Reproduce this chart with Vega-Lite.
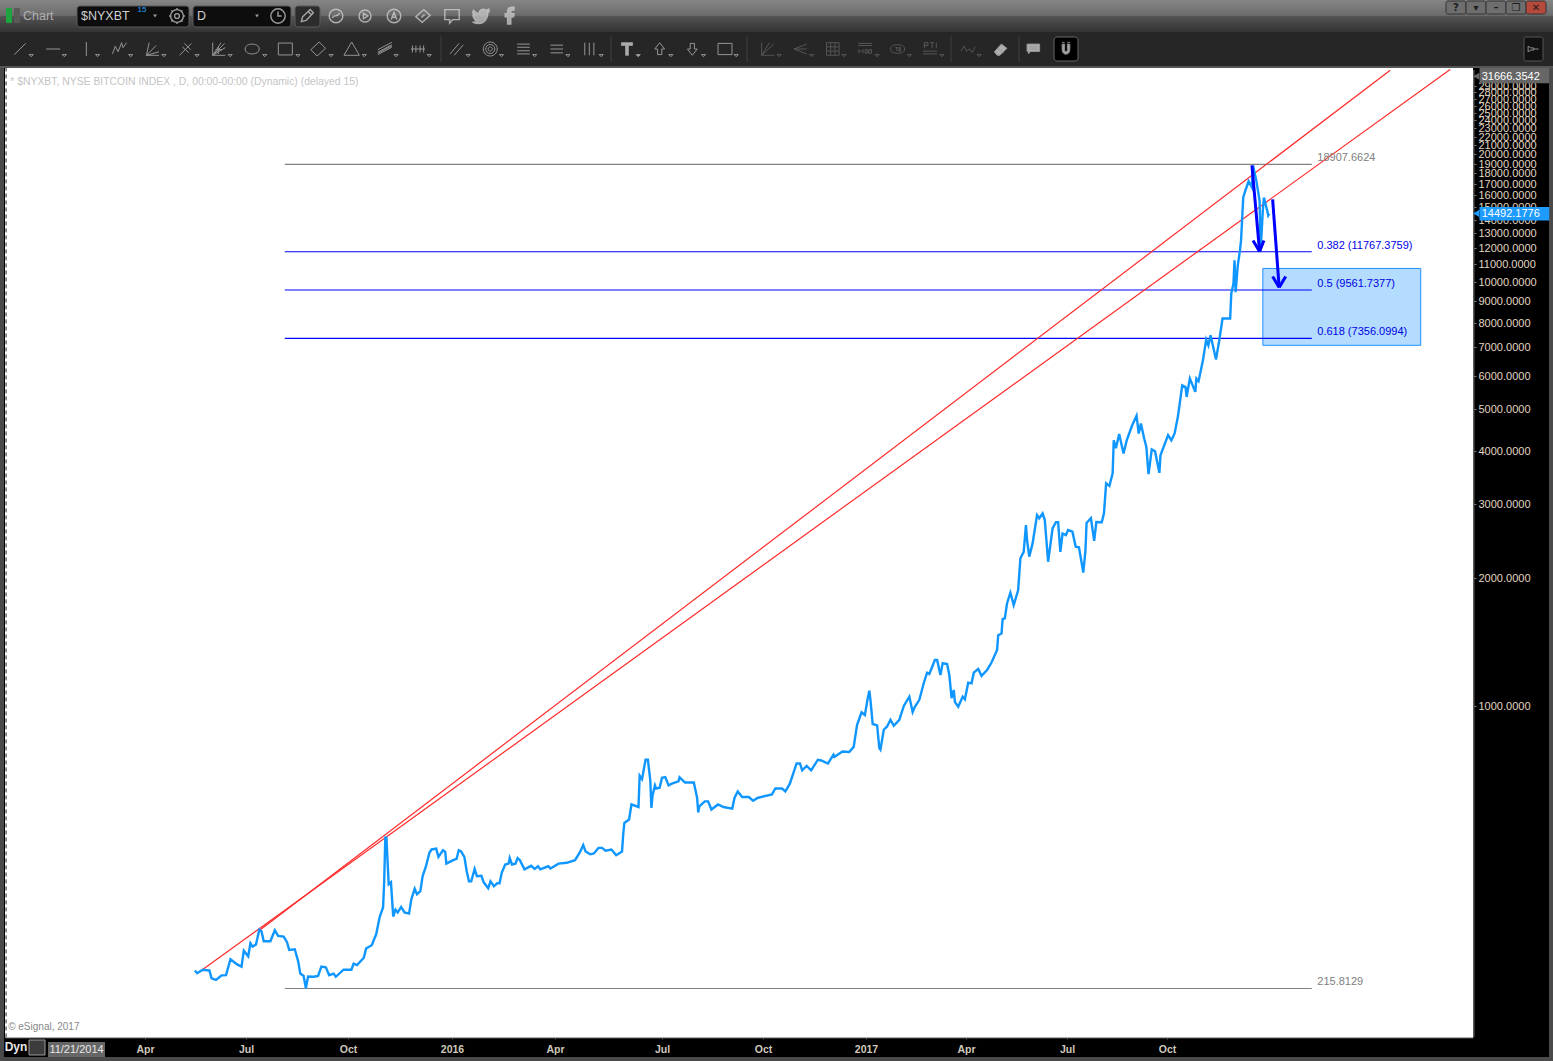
{
"$schema":"https://vega.github.io/schema/vega-lite/v6.json",
"description":"NYSE Bitcoin Index daily chart with Fibonacci retracement levels",
"width":1553,"height":1061,"autosize":{"type":"none"},"padding":0,"background":"#000000",
"config":{"view":{"fill":"#000000","stroke":"#4a4a4a","strokeWidth":8},"font":"Liberation Sans"},
"resolve":{"scale":{"x":"independent","y":"independent","shape":"independent"}},
"layer":[
{"data":{"values":[{"row":"frame"}]},"mark":{"type":"rect","color":"#555555"},"encoding":{"y":{"field":"row","type":"nominal","axis":null,"scale":{"range":[0,68]}}}},
{"data":{"values":[{"row":"title"}]},"mark":{"type":"rect","color":{"gradient":"linear","x1":0,"y1":0,"x2":0,"y2":1,"stops":[{"offset":0,"color":"#858585"},{"offset":0.48,"color":"#6c6c6c"},{"offset":0.52,"color":"#525252"},{"offset":1,"color":"#343434"}]}},"encoding":{"y":{"field":"row","type":"nominal","axis":null,"scale":{"range":[0,32]}}}},
{"data":{"values":[{"row":"tools"}]},"mark":{"type":"rect","color":"#262626"},"encoding":{"y":{"field":"row","type":"nominal","axis":null,"scale":{"range":[32,66]}}}},
{
"data":{"values":[{"box":"symbol"}]},
"encoding":{"y":{"datum":"t","type":"nominal","axis":null,"scale":{"domain":["t"],"range":[6,27]}}},
"resolve":{"scale":{"x":"independent"}},
"layer":[
{"mark":{"type":"rect","color":"#0d0d0d","stroke":"#5a5a5a","cornerRadius":3},"encoding":{"x":{"field":"box","type":"nominal","axis":null,"scale":{"range":[77,189]}}}},
{"data":{"values":[{"box":"interval"}]},"mark":{"type":"rect","color":"#0d0d0d","stroke":"#5a5a5a","cornerRadius":3},"encoding":{"x":{"field":"box","type":"nominal","axis":null,"scale":{"range":[193,291]}}}},
{"data":{"values":[{"box":"draw"}]},"mark":{"type":"rect","color":"#2c2c2c","stroke":"#5a5a5a","cornerRadius":3},"encoding":{"x":{"field":"box","type":"nominal","axis":null,"scale":{"range":[295,320]}}}}
]
},
{
"data":{"values":[{"led":"on"},{"led":"off"}]},
"mark":{"type":"rect","cornerRadius":1},
"encoding":{
"x":{"field":"led","type":"nominal","sort":null,"axis":null,"scale":{"range":[6,20],"paddingInner":0.25,"paddingOuter":0}},
"y":{"datum":"t","type":"nominal","axis":null,"scale":{"domain":["t"],"range":[8,23]}},
"color":{"condition":{"test":"datum.led=='on'","value":"#1fa53f"},"value":"#5a5a5a"}
}
},
{
"data":{"values":[{"txt":"Chart"},{"txt":"$NYXBT"},{"txt":"D"}]},
"mark":{"type":"text","align":"left","fontSize":12.5},
"encoding":{
"x":{"field":"txt","type":"nominal","axis":null,"scale":{"type":"point","padding":0,"domain":["Chart","$NYXBT","_","D"],"range":[23,197]}},
"y":{"datum":"t","type":"nominal","axis":null,"scale":{"domain":["t"],"range":[2,30]}},
"text":{"field":"txt"},
"color":{"condition":{"test":"datum.txt=='Chart'","value":"#b0b0b0"},"value":"#d0d0d0"}
}
},
{
"data":{"values":[{"txt":"15"}]},
"mark":{"type":"text","fontSize":8,"color":"#19a7ff"},
"encoding":{
"x":{"field":"txt","type":"nominal","axis":null,"scale":{"type":"point","padding":0,"range":[135,149]}},
"y":{"datum":"t","type":"nominal","axis":null,"scale":{"domain":["t"],"range":[2,18]}},
"text":{"field":"txt"}
}
},
{
"data":{"values":[{"menu":"symbol"},{"menu":"interval"}]},
"mark":{"type":"point","shape":"triangle-down","filled":true,"size":14,"color":"#dddddd"},
"encoding":{
"x":{"field":"menu","type":"nominal","sort":null,"axis":null,"scale":{"type":"point","padding":0,"range":[155,257]}},
"y":{"datum":"t","type":"nominal","axis":null,"scale":{"domain":["t"],"range":[2,30]}}
}
},
{
"encoding":{
"y":{"datum":"t","type":"nominal","axis":null,"scale":{"domain":["t"],"range":[2,30]}},
"shape":{"field":"tool","type":"nominal","legend":null,"scale":{
"domain":["gear","clock","pencil","compass","play","auto","link","chat","twitter","facebook"],
"range":[
"M.8 0A.8 .8 0 1 1 -.8 0A.8 .8 0 1 1 .8 0M.3 0A.3 .3 0 1 1 -.3 0A.3 .3 0 1 1 .3 0M0 -1V-.8M0 1V.8M-1 0H-.8M1 0H.8M-.7 -.7L-.55 -.55M.7 .7L.55 .55M-.7 .7L-.55 .55M.7 -.7L.55 -.55",
"M.9 0A.9 .9 0 1 1 -.9 0A.9 .9 0 1 1 .9 0M0 -.55V0H.45",
"M-.7 .7L-.55 .1L.4 -.8L.8 -.4L-.1 .55ZM.15 -.55L.55 -.15",
"M.85 0A.85 .85 0 1 1 -.85 0A.85 .85 0 1 1 .85 0M-.45 .25C-.25 -.35 0 .35 .45 -.35",
"M.75 0A.75 .75 0 1 1 -.75 0A.75 .75 0 1 1 .75 0M-.2 -.35L.35 0L-.2 .35Z",
"M.85 0A.85 .85 0 1 1 -.85 0A.85 .85 0 1 1 .85 0M-.35 .45L0 -.45L.35 .45M-.2 .15H.2",
"M-.9 .1L.1 -.8L.9 -.1L-.1 .8ZM-.2 .2L.2 -.2",
"M-.9 -.8H.9V.45H.1L-.3 .9V.45H-.9Z",
"M1 -.6C.9 -.55 .8 -.5 .7 -.5C.8 -.6 .9 -.7 .95 -.85C.85 -.8 .75 -.75 .6 -.7C.5 -.8 .4 -.85 .25 -.85C-.05 -.85 -.25 -.6 -.2 -.3C-.5 -.3 -.75 -.45 -.95 -.7C-1.05 -.5 -1 -.2 -.8 -.05C-.9 -.05 -.95 -.1 -1 -.1C-1 .1 -.85 .3 -.65 .35C-.75 .35 -.8 .35 -.85 .35C-.8 .5 -.65 .6 -.45 .6C-.6 .75 -.85 .8 -1.05 .75C-.85 .9 -.6 .95 -.35 .95C.45 .95 .85 .3 .85 -.35C.9 -.4 .95 -.5 1 -.6Z",
"M.1 1V.1H.45L.5 -.3H.1V-.55C.1 -.7 .2 -.75 .3 -.75H.5V-1.1H.2C-.2 -1.1 -.3 -.8 -.3 -.55V-.3H-.6V.1H-.3V1Z"
]}},
"stroke":{"value":"#dcdcdc"},
"fill":{"condition":{"test":"datum.tool=='twitter'||datum.tool=='facebook'","value":"#cfcfcf"},"value":"transparent"}
},
"resolve":{"scale":{"x":"independent"}},
"layer":[
{"data":{"values":[{"tool":"gear"}]},"mark":{"type":"point","size":256,"strokeWidth":1.4},"encoding":{"x":{"field":"tool","type":"nominal","axis":null,"scale":{"type":"point","padding":0,"range":[165,189]}}}},
{"data":{"values":[{"tool":"clock"},{"tool":"pencil"},{"tool":"compass"},{"tool":"play"},{"tool":"auto"},{"tool":"link"},{"tool":"chat"},{"tool":"twitter"},{"tool":"facebook"}]},"mark":{"type":"point","size":256,"strokeWidth":1.4},"encoding":{"x":{"field":"tool","type":"nominal","sort":null,"axis":null,"scale":{"type":"point","padding":0,"range":[278,510]}}}}
]
},
{
"encoding":{"y":{"datum":"t","type":"nominal","axis":null,"scale":{"domain":["t"],"range":[1,14]}}},
"resolve":{"scale":{"x":"independent"}},
"layer":[
{"data":{"values":[{"btn":"?"},{"btn":"▾"},{"btn":"–"},{"btn":"❐"},{"btn":"✕"}]},"mark":{"type":"rect","stroke":"#333333","cornerRadius":2},"encoding":{
"x":{"field":"btn","type":"nominal","sort":null,"axis":null,"scale":{"range":[1446,1546]}},
"color":{"condition":{"test":"datum.btn=='✕'","value":"#b5493c"},"value":"#6e6e6e"}}},
{"data":{"values":[{"btn":"?"},{"btn":"▾"},{"btn":"–"},{"btn":"❐"},{"btn":"✕"}]},"mark":{"type":"text","font":"DejaVu Sans","fontSize":10,"fontWeight":"bold","color":"#1c1c1c"},"encoding":{
"x":{"field":"btn","type":"nominal","sort":null,"axis":null,"scale":{"type":"point","padding":0,"range":[1456,1536]}},
"text":{"field":"btn"}}}
]
},
{
"encoding":{"y":{"datum":"t","type":"nominal","axis":null,"scale":{"domain":["t"],"range":[37,61]}}},
"resolve":{"scale":{"x":"independent"}},
"layer":[
{"data":{"values":[{"box":"magnet"}]},"mark":{"type":"rect","color":"#000000","stroke":"#666666","cornerRadius":3},"encoding":{"x":{"field":"box","type":"nominal","axis":null,"scale":{"range":[1054,1078]}}}},
{"data":{"values":[{"box":"pin"}]},"mark":{"type":"rect","color":"#111111","stroke":"#555555","cornerRadius":2},"encoding":{"x":{"field":"box","type":"nominal","axis":null,"scale":{"range":[1524,1543]}}}}
]
},
{
"encoding":{
"y":{"datum":"t","type":"nominal","axis":null,"scale":{"domain":["t"],"range":[34,64]}},
"shape":{"field":"tool","type":"nominal","legend":null,"scale":{
"domain":["line","hline","vline","zigzag","fan","pitchfork","gann","ellipse","rectangle","rhombus","triangle","channel","cycles","parallel","circles","fibh","fibg","fibv","text","up","down","shade","axes","arrows","grid","mob","td","pti","wave","eraser","note","magnet","pin"],
"range":[
"M-.8 .8L.8 -.8M1.3 .8H1.9L1.6 1.1Z",
"M-1 0H1M1.3 .8H1.9L1.6 1.1Z",
"M0 -1V1M1.3 .8H1.9L1.6 1.1Z",
"M-1 .7L-.6 -.4L-.2 .4L.3 -.9L.5 -.2L1 -.9M1.3 .8H1.9L1.6 1.1Z",
"M-.9 .9L-.5 -.9M-.9 .9L.5 -.5M-.9 .9L.9 .4M-.9 .9H.9M1.3 .8H1.9L1.6 1.1Z",
"M-.9 .9L.8 -.8M-.5 -.3L.4 .5M-.2 -.8L.7 .1M1.3 .8H1.9L1.6 1.1Z",
"M-.9 -.9V.9H.9M-.9 .9L.8 -.8M-.9 .9L.3 -.9M-.9 .9L.9 -.2M-.5 .1H.4M-.1 -.3V.7M1.3 .8H1.9L1.6 1.1Z",
"M1 0C1 .5 .5 .7 0 .7C-.5 .7 -1 .5 -1 0C-1 -.5 -.5 -.7 0 -.7C.5 -.7 1 -.5 1 0ZM1.5 .8H2.1L1.8 1.1Z",
"M-1 -.85H1V.85H-1ZM1.5 .8H2.1L1.8 1.1Z",
"M-1.1 .1L.1 -1L1 -.1L-.2 1ZM1.5 .8H2.1L1.8 1.1Z",
"M-1.1 .9L0 -1L1.1 .9ZM1.5 .8H2.1L1.8 1.1Z",
"M-1 .45L1 -.6M-1 .8L1 -.25M-1 .1L1 -.95M-1 .6L1 -.45M1.3 .8H1.9L1.6 1.1Z",
"M-1 0H1M-.8 -.5V.5M-.3 -.5V.5M.3 -.5V.5M.8 -.5V.5M1.3 .8H1.9L1.6 1.1Z",
"M-1 .7L.3 -.8M-.4 .9L.9 -.6M1.3 .8H1.9L1.6 1.1Z",
"M1 0A1 1 0 1 1 -1 0A1 1 0 1 1 1 0M.65 0A.65 .65 0 1 1 -.65 0A.65 .65 0 1 1 .65 0M.3 0A.3 .3 0 1 1 -.3 0A.3 .3 0 1 1 .3 0M1.3 .8H1.9L1.6 1.1Z",
"M-.9 -.7H.9M-.9 -.25H.9M-.9 .25H.9M-.9 .7H.9M1.3 .8H1.9L1.6 1.1Z",
"M-.9 -.55H.9M-.9 0H.9M-.9 .55H.9M1.3 .8H1.9L1.6 1.1Z",
"M-.75 -.9V.9M-.1 -.9V.9M.55 -.9V.9M1.3 .8H1.9L1.6 1.1Z",
"M-.8 -.9H.8V-.5H.2V.9H-.2V-.5H-.8ZM1.3 .8H1.9L1.6 1.1Z",
"M0 -.9L.7 0H.3V.8H-.3V0H-.7ZM1.3 .8H1.9L1.6 1.1Z",
"M0 .9L.7 0H.3V-.8H-.3V0H-.7ZM1.3 .8H1.9L1.6 1.1Z",
"M-1 -.8H1V.8H-1ZM1.3 .8H1.9L1.6 1.1Z",
"M-.9 -.9V.9H.9M-.9 .9L.8 -.7M-.9 .9L.2 -.9M1.3 .8H1.9L1.6 1.1Z",
"M.9 -.7L-.9 0L.9 .7M-.9 0H.9M1.3 .8H1.9L1.6 1.1Z",
"M-.9 -.9H.9V.9H-.9ZM-.9 -.3H.9M-.9 .3H.9M-.3 -.9V.9M.3 -.9V.9M1.3 .8H1.9L1.6 1.1Z",
"M-1 -.8H1M-1 -.5H1M-.9 .6V.1L-.6 .4L-.3 .1V.6M0 .1H.3V.6H0ZM.5 .1V.6H.9V.1ZM1.4 .8H2L1.7 1.1Z",
"M1 0C1 .5 .5 .6 0 .6C-.5 .6 -1 .5 -1 0C-1 -.5 -.5 -.6 0 -.6C.5 -.6 1 -.5 1 0ZM-.3 -.2H.1M-.1 -.2V.3M.2 -.2V.3H.4V-.2ZM1.4 .8H2L1.7 1.1Z",
"M-.8 -.9H-.3V-.5H-.8ZM-.8 -.9V-.1M0 -.9H.6M.3 -.9V-.1M.9 -.9V-.1M-1 .3H1M-1 .7H1M1.4 .8H2L1.7 1.1Z",
"M-1 .3L-.6 -.4L-.2 .3L.2 0L.6 .5L1 -.3M1.3 .8H1.9L1.6 1.1Z",
"M-.9 .4L.1 -.7L.9 -.1L-.1 .9H-.5ZM-.4 -.1L.4 .5",
"M-.9 -.7H.9V.35H-.4L-.7 .7V.35H-.9ZM-.6 -.3H.6M-.6 0H.6",
"M-.55 -.7V.1C-.55 .95 .55 .95 .55 .1V-.7H.2V.1C.2 .45 -.2 .45 -.2 .1V-.7ZM-.55 -.95H-.2M.2 -.95H.55",
"M-.7 -.4V.4L-.3 .15H.1V-.15H-.3ZM.1 0H.8"
]}},
"stroke":{"condition":{"test":"indexof(['axes','arrows','grid','mob','td','pti','wave'],datum.tool)>=0","value":"#6a6a6a"},"value":"#c4c4c4"},
"fill":{"condition":{"test":"indexof(['text','magnet','eraser','note'],datum.tool)>=0","value":"#e8e8e8"},"value":"transparent"}
},
"resolve":{"scale":{"x":"independent"}},
"layer":[
{"data":{"values":[{"tool":"line"},{"tool":"hline"},{"tool":"vline"},{"tool":"zigzag"},{"tool":"fan"},{"tool":"pitchfork"},{"tool":"gann"},{"tool":"ellipse"},{"tool":"rectangle"},{"tool":"rhombus"},{"tool":"triangle"},{"tool":"channel"},{"tool":"cycles"}]},"mark":{"type":"point","size":196,"strokeWidth":1},"encoding":{"x":{"field":"tool","type":"nominal","sort":null,"axis":null,"scale":{"type":"point","padding":0,"range":[20,418]}}}},
{"data":{"values":[{"tool":"parallel"},{"tool":"circles"},{"tool":"fibh"},{"tool":"fibg"},{"tool":"fibv"}]},"mark":{"type":"point","size":196,"strokeWidth":1},"encoding":{"x":{"field":"tool","type":"nominal","sort":null,"axis":null,"scale":{"type":"point","padding":0,"range":[457,590]}}}},
{"data":{"values":[{"tool":"text"},{"tool":"up"},{"tool":"down"},{"tool":"shade"}]},"mark":{"type":"point","size":196,"strokeWidth":1},"encoding":{"x":{"field":"tool","type":"nominal","sort":null,"axis":null,"scale":{"type":"point","padding":0,"range":[627,725]}}}},
{"data":{"values":[{"tool":"axes"},{"tool":"arrows"},{"tool":"grid"},{"tool":"mob"},{"tool":"td"},{"tool":"pti"}]},"mark":{"type":"point","size":196,"strokeWidth":1},"encoding":{"x":{"field":"tool","type":"nominal","sort":null,"axis":null,"scale":{"type":"point","padding":0,"range":[768,930]}}}},
{"data":{"values":[{"tool":"wave"},{"tool":"eraser"},{"tool":"note"},{"tool":"magnet"}]},"mark":{"type":"point","size":196,"strokeWidth":1},"encoding":{"x":{"field":"tool","type":"nominal","sort":null,"axis":null,"scale":{"type":"point","padding":0,"range":[968,1066]}}}},
{"data":{"values":[{"tool":"pin"}]},"mark":{"type":"point","size":196,"strokeWidth":1},"encoding":{"x":{"field":"tool","type":"nominal","axis":null,"scale":{"type":"point","padding":0,"range":[1521,1545]}}}},
{"data":{"values":[{"sep":"sep1"},{"sep":"sep2"},{"sep":"sep3"},{"sep":"sep4"},{"sep":"sep5"}]},"mark":{"type":"tick","size":26,"thickness":1,"orient":"vertical","color":"#4a4a4a"},"encoding":{"shape":null,"stroke":null,"fill":null,"x":{"field":"sep","type":"nominal","axis":null,"scale":{"type":"point","padding":0,"domain":["sep1","a","b","c","d","sep2","e","f","g","sep3","h","i","j","k","l","sep4","m","sep5"],"range":[441,1019]}}}}
]
},
{
"data":{"values":[{"txt":"Dyn"}]},
"mark":{"type":"text","fontSize":12,"fontWeight":"bold","color":"#e6e6e6"},
"encoding":{
"x":{"field":"txt","type":"nominal","axis":null,"scale":{"type":"point","padding":0,"range":[5,27]}},
"y":{"datum":"t","type":"nominal","axis":null,"scale":{"domain":["t"],"range":[1040,1054]}},
"text":{"field":"txt"}
}
},
{
"data":{"values":[{"box":"lock"}]},
"mark":{"type":"rect","color":"#3c3c3c","stroke":"#9a9a9a"},
"encoding":{
"x":{"field":"box","type":"nominal","axis":null,"scale":{"range":[29,45]}},
"y":{"field":"box","type":"nominal","axis":null,"scale":{"range":[1040,1055]}}
}
},
{
"data":{"values":[{"box":"11/21/2014"}]},
"encoding":{
"x":{"field":"box","type":"nominal","axis":null,"scale":{"range":[48,105]}},
"y":{"field":"box","type":"nominal","axis":null,"scale":{"range":[1042,1057]}}
},
"layer":[
{"mark":{"type":"rect","color":"#666666"}},
{"mark":{"type":"text","fontSize":11,"color":"#e8e8e8"},"encoding":{"text":{"field":"box"}}}
]
},
{
"encoding":{
"x":{"field":"d","type":"temporal","title":null,
"scale":{"type":"utc","nice":false,
"domain":{"expr":"[utc(2014,10,19),utc(2015,3,1),utc(2015,6,1),utc(2015,9,1),utc(2016,0,1),utc(2016,3,1),utc(2016,6,1),utc(2016,9,1),utc(2017,0,1),utc(2017,3,1),utc(2017,6,1),utc(2017,9,1),utc(2018,6,9)]"},
"range":[5,145,246,348,452,555,662,763,866,966,1067,1167,1473]},
"axis":{"orient":"bottom","offset":-24,"grid":false,"domainColor":"#5a5a5a","domainWidth":2,"tickColor":"#5a5a5a","tickSize":2,"labelPadding":5,"labelFontSize":10.5,"labelFontWeight":"bold","labelColor":"#cfc9bc","labelOverlap":false,"labelFlush":false,"labelBound":false,
"values":["2015-04-01","2015-07-01","2015-10-01","2016-01-01","2016-04-01","2016-07-01","2016-10-01","2017-01-01","2017-04-01","2017-07-01","2017-10-01"],
"labelExpr":"utcmonth(datum.value)==0?utcFormat(datum.value,'%Y'):utcFormat(datum.value,'%b')"}},
"y":{"field":"p","type":"quantitative","title":null,
"scale":{"type":"log","nice":false,"domain":[166.4,31666.3542],"range":[1036.4,69.4]},
"axis":{"orient":"right","offset":-80,"grid":false,"domainColor":"#5a5a5a","domainWidth":2,"tickColor":"#777777","tickSize":3,"labelPadding":2,"labelOffset":0.5,"labelFontSize":11,"labelColor":"#e0d6c2","labelOverlap":false,"labelBound":false,"format":".4f",
"values":[1000,2000,3000,4000,5000,6000,7000,8000,9000,10000,11000,12000,13000,14000,15000,16000,17000,18000,19000,20000,21000,22000,23000,24000,25000,26000,27000,28000,29000]}}
},
"layer":[
{"data":{"values":[{"d":"2014-11-19","d2":"2018-07-09","p":165.5,"p2":31900}]},"mark":{"type":"rect","color":"#ffffff"},"encoding":{"x2":{"field":"d2"},"y2":{"field":"p2"}}},
{"data":{"values":[{"d":"2014-11-20","p":165.5,"p2":31900}]},"mark":{"type":"rule","color":"#222222","strokeDash":[4,3],"strokeWidth":1},"encoding":{"y2":{"field":"p2"}}},
{"data":{"values":[{"d":"2017-12-28","d2":"2018-05-22","p":10750,"p2":7083}]},"mark":{"type":"rect","color":"#b3dcff","stroke":"#1e90ff","strokeWidth":1},"encoding":{"x2":{"field":"d2"},"y2":{"field":"p2"}}},
{"data":{"values":[
{"d":"2015-08-05","d2":"2018-02-11","p":18907.6624,"level":"high"},
{"d":"2015-08-05","d2":"2018-02-11","p":11767.3759,"level":"fib"},
{"d":"2015-08-05","d2":"2018-02-11","p":9561.7377,"level":"fib"},
{"d":"2015-08-05","d2":"2018-02-11","p":7356.0994,"level":"fib"},
{"d":"2015-08-05","d2":"2018-02-11","p":215.8129,"level":"low"}
]},"mark":{"type":"rule","strokeWidth":1.1},"encoding":{"x2":{"field":"d2"},"color":{"condition":{"test":"datum.level=='fib'","value":"#0000ff"},"value":"#808080"}}},
{"data":{"values":[
{"d":"2015-07-13","p":295.6,"d2":"2018-04-24","p2":31537},
{"d":"2015-05-23","p":239.3,"d2":"2018-06-18","p2":31666}
]},"mark":{"type":"rule","color":"#ff2a2a","strokeWidth":1.2},"encoding":{"x2":{"field":"d2"},"y2":{"field":"p2"}}},
{"data":{"values":[
{"d":"2015-05-16","p":238},{"d":"2015-05-18","p":234.5},{"d":"2015-05-23","p":239},{"d":"2015-05-29","p":238},{"d":"2015-05-31","p":228},{"d":"2015-06-04","p":226},{"d":"2015-06-09","p":231.7},{"d":"2015-06-13","p":232},{"d":"2015-06-17","p":253},{"d":"2015-06-23","p":246},{"d":"2015-06-27","p":243},{"d":"2015-06-29","p":265},
{"d":"2015-07-03","p":257},{"d":"2015-07-05","p":276},{"d":"2015-07-07","p":271},{"d":"2015-07-10","p":274},{"d":"2015-07-13","p":297},{"d":"2015-07-15","p":294},{"d":"2015-07-17","p":279},{"d":"2015-07-23","p":279},{"d":"2015-07-27","p":296},{"d":"2015-07-30","p":287},
{"d":"2015-08-04","p":286},{"d":"2015-08-07","p":277.6},{"d":"2015-08-09","p":266},{"d":"2015-08-14","p":267},{"d":"2015-08-17","p":250.4},{"d":"2015-08-19","p":234},{"d":"2015-08-22","p":231},{"d":"2015-08-24","p":216},{"d":"2015-08-26","p":230.4},{"d":"2015-08-31","p":230},
{"d":"2015-09-04","p":231},{"d":"2015-09-07","p":243},{"d":"2015-09-11","p":242},{"d":"2015-09-14","p":232},{"d":"2015-09-18","p":234},{"d":"2015-09-20","p":230},{"d":"2015-09-27","p":239},
{"d":"2015-10-04","p":239},{"d":"2015-10-06","p":247},{"d":"2015-10-09","p":245},{"d":"2015-10-15","p":255},{"d":"2015-10-17","p":268},{"d":"2015-10-22","p":273},{"d":"2015-10-26","p":290},{"d":"2015-10-29","p":318},{"d":"2015-11-01","p":335},{"d":"2015-11-02","p":384},{"d":"2015-11-03","p":489},{"d":"2015-11-04","p":489},{"d":"2015-11-05","p":431},{"d":"2015-11-06","p":380},{"d":"2015-11-08","p":384},{"d":"2015-11-10","p":319},{"d":"2015-11-12","p":331},{"d":"2015-11-14","p":326},{"d":"2015-11-17","p":336},{"d":"2015-11-20","p":326},{"d":"2015-11-24","p":324},{"d":"2015-11-26","p":350},{"d":"2015-11-29","p":371},
{"d":"2015-12-01","p":360},{"d":"2015-12-04","p":366},{"d":"2015-12-06","p":397},{"d":"2015-12-09","p":419},{"d":"2015-12-12","p":451},{"d":"2015-12-14","p":459},{"d":"2015-12-18","p":461},{"d":"2015-12-20","p":441},{"d":"2015-12-24","p":457},{"d":"2015-12-26","p":453},{"d":"2015-12-27","p":425},
{"d":"2016-01-02","p":433},{"d":"2016-01-05","p":436},{"d":"2016-01-07","p":457},{"d":"2016-01-09","p":454},{"d":"2016-01-12","p":440},{"d":"2016-01-14","p":408},{"d":"2016-01-16","p":386},{"d":"2016-01-18","p":386},{"d":"2016-01-21","p":413},{"d":"2016-01-23","p":397},{"d":"2016-01-27","p":398},{"d":"2016-01-29","p":384},
{"d":"2016-02-02","p":372},{"d":"2016-02-04","p":386},{"d":"2016-02-07","p":376},{"d":"2016-02-10","p":382},{"d":"2016-02-12","p":382},{"d":"2016-02-14","p":405},{"d":"2016-02-17","p":423},{"d":"2016-02-20","p":425},{"d":"2016-02-21","p":438},{"d":"2016-02-23","p":423},{"d":"2016-02-26","p":425},{"d":"2016-02-28","p":438},
{"d":"2016-03-01","p":433},{"d":"2016-03-05","p":412},{"d":"2016-03-11","p":420},{"d":"2016-03-14","p":413},{"d":"2016-03-17","p":419},{"d":"2016-03-19","p":412},{"d":"2016-03-26","p":419},{"d":"2016-03-28","p":414},
{"d":"2016-04-04","p":425},{"d":"2016-04-11","p":427},{"d":"2016-04-18","p":433},{"d":"2016-04-22","p":451},{"d":"2016-04-25","p":470},{"d":"2016-04-27","p":454},
{"d":"2016-05-01","p":447},{"d":"2016-05-04","p":449},{"d":"2016-05-08","p":463},{"d":"2016-05-11","p":463},{"d":"2016-05-14","p":456},{"d":"2016-05-19","p":459},{"d":"2016-05-23","p":445},{"d":"2016-05-28","p":454},{"d":"2016-05-29","p":498},{"d":"2016-05-30","p":530},
{"d":"2016-06-03","p":540},{"d":"2016-06-05","p":586},{"d":"2016-06-11","p":578},{"d":"2016-06-12","p":685},{"d":"2016-06-14","p":672},{"d":"2016-06-17","p":747},{"d":"2016-06-19","p":747},{"d":"2016-06-21","p":670},{"d":"2016-06-22","p":575},{"d":"2016-06-23","p":616},{"d":"2016-06-25","p":650},{"d":"2016-06-26","p":639},{"d":"2016-06-29","p":642},
{"d":"2016-07-01","p":677},{"d":"2016-07-04","p":680},{"d":"2016-07-07","p":650},{"d":"2016-07-10","p":656},{"d":"2016-07-16","p":664},{"d":"2016-07-17","p":679},{"d":"2016-07-22","p":660},{"d":"2016-07-30","p":660},
{"d":"2016-08-02","p":607},{"d":"2016-08-03","p":561},{"d":"2016-08-04","p":580},{"d":"2016-08-09","p":596},{"d":"2016-08-12","p":596},{"d":"2016-08-15","p":570},{"d":"2016-08-21","p":586},{"d":"2016-08-26","p":578},
{"d":"2016-09-03","p":573},{"d":"2016-09-05","p":607},{"d":"2016-09-08","p":629},{"d":"2016-09-12","p":610},{"d":"2016-09-18","p":610},{"d":"2016-09-22","p":598},{"d":"2016-09-26","p":607},
{"d":"2016-10-09","p":619},{"d":"2016-10-12","p":639},{"d":"2016-10-18","p":639},{"d":"2016-10-21","p":629},{"d":"2016-10-25","p":656},{"d":"2016-10-31","p":732},
{"d":"2016-11-03","p":732},{"d":"2016-11-05","p":705},{"d":"2016-11-09","p":722},{"d":"2016-11-13","p":705},{"d":"2016-11-19","p":747},{"d":"2016-11-22","p":744},{"d":"2016-11-28","p":732},
{"d":"2016-12-03","p":768},{"d":"2016-12-04","p":759},{"d":"2016-12-11","p":781},{"d":"2016-12-17","p":779},{"d":"2016-12-21","p":801},{"d":"2016-12-24","p":902},{"d":"2016-12-28","p":966},{"d":"2016-12-31","p":952},
{"d":"2017-01-02","p":1023},{"d":"2017-01-04","p":1087},{"d":"2017-01-05","p":1034},{"d":"2017-01-07","p":907},{"d":"2017-01-11","p":900},{"d":"2017-01-13","p":796},{"d":"2017-01-14","p":789},{"d":"2017-01-17","p":879},{"d":"2017-01-20","p":895},{"d":"2017-01-23","p":928},{"d":"2017-01-26","p":898},{"d":"2017-01-31","p":928},
{"d":"2017-02-04","p":1000},{"d":"2017-02-09","p":1052},{"d":"2017-02-12","p":968},{"d":"2017-02-14","p":996},{"d":"2017-02-18","p":1034},{"d":"2017-02-22","p":1133},{"d":"2017-02-25","p":1198},{"d":"2017-02-27","p":1190},
{"d":"2017-03-04","p":1284},{"d":"2017-03-06","p":1284},{"d":"2017-03-09","p":1183},{"d":"2017-03-11","p":1261},{"d":"2017-03-15","p":1255},{"d":"2017-03-17","p":1183},{"d":"2017-03-19","p":1044},{"d":"2017-03-21","p":1091},{"d":"2017-03-22","p":1023},{"d":"2017-03-25","p":996},{"d":"2017-03-29","p":1052},{"d":"2017-03-31","p":1037},
{"d":"2017-04-03","p":1135},{"d":"2017-04-06","p":1131},{"d":"2017-04-08","p":1198},{"d":"2017-04-12","p":1223},{"d":"2017-04-15","p":1178},{"d":"2017-04-20","p":1216},{"d":"2017-04-24","p":1266},{"d":"2017-04-29","p":1356},{"d":"2017-04-30","p":1468},
{"d":"2017-05-03","p":1482},{"d":"2017-05-04","p":1603},{"d":"2017-05-06","p":1610},{"d":"2017-05-08","p":1747},{"d":"2017-05-11","p":1849},{"d":"2017-05-14","p":1730},{"d":"2017-05-18","p":1877},{"d":"2017-05-20","p":2229},{"d":"2017-05-23","p":2309},{"d":"2017-05-25","p":2670},{"d":"2017-05-26","p":2461},{"d":"2017-05-28","p":2250},{"d":"2017-05-31","p":2417},
{"d":"2017-06-04","p":2818},{"d":"2017-06-06","p":2770},{"d":"2017-06-09","p":2845},{"d":"2017-06-11","p":2743},{"d":"2017-06-14","p":2188},{"d":"2017-06-18","p":2623},{"d":"2017-06-21","p":2712},{"d":"2017-06-23","p":2712},{"d":"2017-06-25","p":2309},{"d":"2017-06-27","p":2550},{"d":"2017-06-30","p":2527},
{"d":"2017-07-02","p":2598},{"d":"2017-07-06","p":2575},{"d":"2017-07-09","p":2375},{"d":"2017-07-12","p":2367},{"d":"2017-07-16","p":2062},{"d":"2017-07-18","p":2331},{"d":"2017-07-19","p":2700},{"d":"2017-07-23","p":2770},{"d":"2017-07-26","p":2452},{"d":"2017-07-28","p":2714},
{"d":"2017-08-02","p":2712},{"d":"2017-08-04","p":2845},{"d":"2017-08-06","p":3347},{"d":"2017-08-09","p":3300},{"d":"2017-08-12","p":3534},{"d":"2017-08-13","p":4232},{"d":"2017-08-15","p":4053},{"d":"2017-08-18","p":4375},{"d":"2017-08-22","p":3938},{"d":"2017-08-25","p":4232},{"d":"2017-08-30","p":4589},
{"d":"2017-09-03","p":4835},{"d":"2017-09-05","p":4389},{"d":"2017-09-07","p":4633},{"d":"2017-09-10","p":4270},{"d":"2017-09-12","p":4082},{"d":"2017-09-14","p":3520},{"d":"2017-09-17","p":4025},{"d":"2017-09-20","p":3987},{"d":"2017-09-24","p":3545},{"d":"2017-09-25","p":3900},
{"d":"2017-10-02","p":4350},{"d":"2017-10-05","p":4232},{"d":"2017-10-08","p":4389},{"d":"2017-10-11","p":4810},{"d":"2017-10-15","p":5702},{"d":"2017-10-18","p":5650},{"d":"2017-10-19","p":5352},{"d":"2017-10-22","p":5913},{"d":"2017-10-27","p":5500},{"d":"2017-10-28","p":5913},{"d":"2017-10-30","p":5830},
{"d":"2017-11-03","p":6530},{"d":"2017-11-06","p":7306},{"d":"2017-11-08","p":7083},{"d":"2017-11-10","p":7483},{"d":"2017-11-15","p":6555},{"d":"2017-11-18","p":7278},{"d":"2017-11-21","p":8190},{"d":"2017-11-28","p":8190},{"d":"2017-11-29","p":9370},
{"d":"2017-12-01","p":9895},{"d":"2017-12-02","p":11229},{"d":"2017-12-03","p":9455},{"d":"2017-12-05","p":10930},{"d":"2017-12-07","p":11854},{"d":"2017-12-08","p":12515},{"d":"2017-12-10","p":15800},{"d":"2017-12-12","p":16411},{"d":"2017-12-15","p":17260},{"d":"2017-12-18","p":16700},{"d":"2017-12-19","p":18800},{"d":"2017-12-22","p":17325},{"d":"2017-12-25","p":15545},{"d":"2017-12-26","p":11854},{"d":"2017-12-28","p":14725},{"d":"2017-12-29","p":15790},
{"d":"2018-01-01","p":14725},{"d":"2018-01-02","p":14340},{"d":"2018-01-03","p":14492.1776}
]},"mark":{"type":"line","color":"#0f96ff","strokeWidth":2.4,"interpolate":"linear"}},
{"data":{"values":[
{"d":"2017-12-18","p":18800,"d2":"2017-12-25","p2":11790},
{"d":"2017-12-19","p":12515,"d2":"2017-12-25","p2":11790},
{"d":"2017-12-29","p":12515,"d2":"2017-12-25","p2":11790},
{"d":"2018-01-06","p":15630,"d2":"2018-01-12","p2":9700},
{"d":"2018-01-06","p":10295,"d2":"2018-01-12","p2":9700},
{"d":"2018-01-18","p":10295,"d2":"2018-01-12","p2":9700}
]},"mark":{"type":"rule","color":"#0000ff","strokeWidth":3},"encoding":{"x2":{"field":"d2"},"y2":{"field":"p2"}}},
{"data":{"values":[
{"d":"2018-02-16","p":18907.6624,"label":"18907.6624","level":"high"},
{"d":"2018-02-16","p":11767.3759,"label":"0.382 (11767.3759)","level":"fib"},
{"d":"2018-02-16","p":9561.7377,"label":"0.5 (9561.7377)","level":"fib"},
{"d":"2018-02-16","p":7356.0994,"label":"0.618 (7356.0994)","level":"fib"},
{"d":"2018-02-16","p":215.8129,"label":"215.8129","level":"low"}
]},"mark":{"type":"text","align":"left","dy":-6,"fontSize":11},"encoding":{"text":{"field":"label"},"color":{"condition":{"test":"datum.level=='fib'","value":"#0000e6"},"value":"#808080"}}},
{"data":{"values":[{"d":"2014-11-24","p":29550,"label":"* $NYXBT, NYSE BITCOIN INDEX , D, 00:00-00:00 (Dynamic) (delayed 15)"}]},"mark":{"type":"text","align":"left","fontSize":10.4,"color":"#c4c4c4"},"encoding":{"text":{"field":"label"}}},
{"data":{"values":[{"d":"2014-11-22","p":175,"label":"© eSignal, 2017"}]},"mark":{"type":"text","align":"left","fontSize":10,"color":"#888888"},"encoding":{"text":{"field":"label"}}},
{"data":{"values":[{"d":"2018-07-15","d2":"2018-09-17","p":31900,"p2":29390,"tag":"last"},{"d":"2018-07-15","d2":"2018-09-17","p":15015,"p2":13948,"tag":"close"}]},"mark":{"type":"rect"},"encoding":{"x2":{"field":"d2"},"y2":{"field":"p2"},"color":{"condition":{"test":"datum.tag=='close'","value":"#1e9bff"},"value":"#666666"}}},
{"data":{"values":[{"d":"2018-07-12","p":30510,"tag":"last"},{"d":"2018-07-12","p":14492.1776,"tag":"close"}]},"mark":{"type":"point","shape":"triangle-left","filled":true,"size":50,"opacity":1},"encoding":{"color":{"condition":{"test":"datum.tag=='close'","value":"#1e9bff"},"value":"#666666"}}},
{"data":{"values":[{"d":"2018-07-17","p":30510,"label":"31666.3542"},{"d":"2018-07-17","p":14492.1776,"label":"14492.1776"}]},"mark":{"type":"text","align":"left","dy":1,"fontSize":11,"color":"#ffffff"},"encoding":{"text":{"field":"label"}}}
]
}
]
}
